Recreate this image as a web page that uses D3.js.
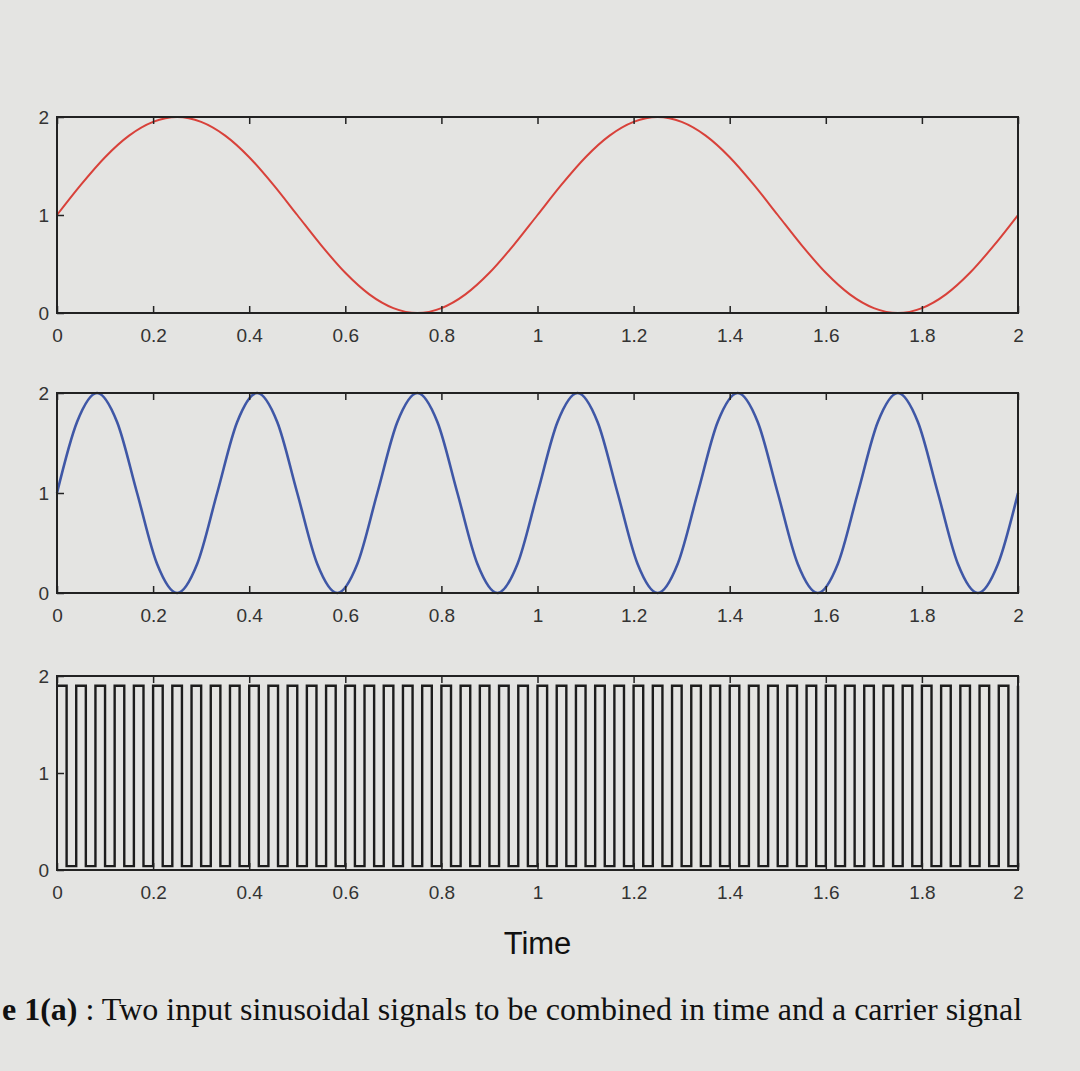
<!DOCTYPE html>
<html>
<head>
<meta charset="utf-8">
<style>
  body {margin: 0; background: #e4e4e2;}
  svg {display: block;}
</style>
</head>
<body>
<div id="chart"></div>
<script src="https://cdn.jsdelivr.net/npm/d3@7/dist/d3.min.js"></script>
<script>
// x ticks shared by all panels
var xTicks = [0, 0.2, 0.4, 0.6, 0.8, 1, 1.2, 1.4, 1.6, 1.8, 2];
var yTicks = [0, 1, 2];

var redStep = 0.05;
var redValues = [1, 1.31, 1.59, 1.81, 1.95, 2, 1.95, 1.81, 1.59, 1.31,
                 1, 0.69, 0.41, 0.19, 0.05, 0, 0.05, 0.19, 0.41, 0.69,
                 1, 1.31, 1.59, 1.81, 1.95, 2, 1.95, 1.81, 1.59, 1.31,
                 1, 0.69, 0.41, 0.19, 0.05, 0, 0.05, 0.19, 0.41, 0.69, 1];

// blue input, sampled every 1/24 s (middle panel)
var blueStep = 1 / 24;
var blueValues = [1, 1.71, 2, 1.71, 1, 0.29, 0, 0.29,
                  1, 1.71, 2, 1.71, 1, 0.29, 0, 0.29,
                  1, 1.71, 2, 1.71, 1, 0.29, 0, 0.29,
                  1, 1.71, 2, 1.71, 1, 0.29, 0, 0.29,
                  1, 1.71, 2, 1.71, 1, 0.29, 0, 0.29,
                  1, 1.71, 2, 1.71, 1, 0.29, 0, 0.29, 1];

// carrier: 50 pulses over 2 s
var carrierPulses = 50;
var carrierHigh = 1.9, carrierLow = 0.04;

var W = 1080, H = 1071;
var svg = d3.select("#chart").append("svg").attr("width", W).attr("height", H);
svg.append("rect").attr("width", W).attr("height", H).attr("fill", "#e4e4e2");

var x = d3.scaleLinear().domain([0, 2]).range([57, 1018]);

var panels = [
    {top: 117, bottom: 313},
    {top: 393, bottom: 593},
    {top: 676, bottom: 870}
];

function carrierData() {
    var pts = [];
    var half = 2 / carrierPulses / 2;
    for (var i = 0; i < carrierPulses * 2; i++) {
        pts.push([i * half, i % 2 == 0 ? carrierHigh : carrierLow]);
    }
    pts.push([2, carrierHigh]);
    return pts;
}

var series = [
    {data: redValues.map(function(v, i) {return [i * redStep, v];}), color: "#d8413a", curve: d3.curveCardinal, width: 2},
    {data: blueValues.map(function(v, i) {return [i * blueStep, v];}), color: "#3f57a6", curve: d3.curveCardinal, width: 2.6},
    {data: carrierData(), color: "#1c1c1c", curve: d3.curveStepAfter, width: 2.4}
];

panels.forEach(function(p, k) {
    var y = d3.scaleLinear().domain([0, 2]).range([p.bottom, p.top]);
    var g = svg.append("g");

    var line = d3.line()
        .x(function(d) {return x(d[0]);})
        .y(function(d) {return y(d[1]);})
        .curve(series[k].curve);

    g.append("path").datum(series[k].data)
        .attr("d", line)
        .attr("fill", "none")
        .attr("stroke", series[k].color)
        .attr("stroke-width", series[k].width);

    // box
    g.append("rect")
        .attr("x", x(0)).attr("y", p.top)
        .attr("width", x(2) - x(0)).attr("height", p.bottom - p.top)
        .attr("fill", "none").attr("stroke", "#222").attr("stroke-width", 2);

    // inward ticks, matlab style
    var bottomAxis = d3.axisBottom(x).tickValues(xTicks).tickSize(-7).tickPadding(16)
        .tickFormat(d3.format(""));
    var ax = g.append("g").attr("transform", "translate(0," + p.bottom + ")").call(bottomAxis);
    ax.select(".domain").remove();
    var topAxis = d3.axisTop(x).tickValues(xTicks).tickSize(-7).tickFormat("");
    var at = g.append("g").attr("transform", "translate(0," + p.top + ")").call(topAxis);
    at.select(".domain").remove();
    var leftAxis = d3.axisLeft(y).tickValues(yTicks).tickSize(-7).tickPadding(8)
        .tickFormat(d3.format("d"));
    var al = g.append("g").attr("transform", "translate(" + x(0) + ",0)").call(leftAxis);
    al.select(".domain").remove();

    g.selectAll(".tick line").attr("stroke", "#222").attr("stroke-width", 1.5);
    g.selectAll(".tick text")
        .attr("font-family", "Liberation Sans, Arial, sans-serif")
        .attr("font-size", 19).attr("fill", "#333");
});

svg.append("text")
    .attr("x", x(1)).attr("y", 954)
    .attr("text-anchor", "middle")
    .attr("font-family", "Liberation Sans, Arial, sans-serif")
    .attr("font-size", 31).attr("fill", "#111")
    .text("Time");

var cap = svg.append("text")
    .attr("x", 2).attr("y", 1020)
    .attr("font-family", "Liberation Serif, Times New Roman, serif")
    .attr("font-size", 32).attr("fill", "#111");
cap.append("tspan").attr("font-weight", "bold").text("e 1(a)");
cap.append("tspan").text(" : Two input sinusoidal signals to be combined in time and a carrier signal");
</script>
</body>
</html>
